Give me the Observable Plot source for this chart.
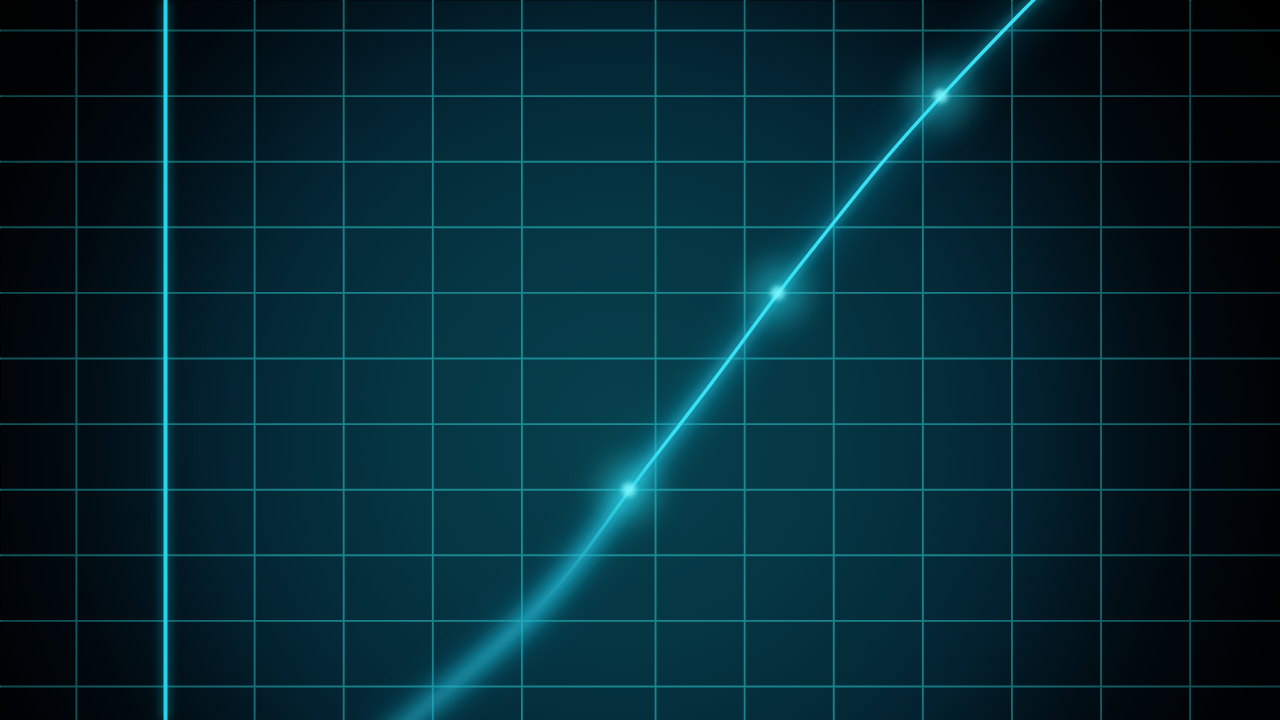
<!DOCTYPE html>
<html>
<head>
<meta charset="utf-8">
<script src="https://cdn.jsdelivr.net/npm/d3@7"></script>
<script src="https://cdn.jsdelivr.net/npm/@observablehq/plot@0.6"></script>
<style>
  html, body { margin: 0; padding: 0; background: #000; overflow: hidden; }
  #chart svg { display: block; }
</style>
</head>
<body>
<div id="chart"></div>
<script>
// Grid positions (chart units)
const gridX = [-1, 0, 1, 2, 3, 4, 5.5, 6.5, 7.5, 8.5, 9.5, 10.5, 11.5];
const gridY = [0, 1, 2, 3, 4, 5, 6, 7, 8, 9, 10];
// Bright reference axis
const axisX = [0];
// Glowing curve
const curveX = [10.0, 9.73, 8.70, 8.04, 7.46, 6.87, 6.34, 5.78, 5.20, 4.70, 4.08, 3.20, 2.75, 2.5];
const curveY = [10.8, 10.46, 9.0, 8.0, 7.0, 6.0, 5.0, 4.0, 3.0, 2.0, 1.0, 0.0, -0.52, -0.8];
// Flare spots along curve
const flareX = [8.70, 6.87, 5.20];
const flareY = [9.0, 6.0, 3.0];

const curve = curveX.map((x, i) => ({x, y: curveY[i]}));
const flares = flareX.map((x, i) => ({x, y: flareY[i]}));

const plot = Plot.plot({
  width: 1280,
  height: 720,
  margin: 0,
  x: {domain: [-1.852, 12.514], axis: null},
  y: {domain: [-0.518, 10.457], axis: null},
  style: {background: "#000"},
  marks: [
    Plot.frame({fill: "url(#bg)", stroke: "none", ariaDescription: "bg"}),
    Plot.ruleX(gridX, {stroke: "#1c8e97", strokeWidth: 1.9, ariaDescription: "gridx"}),
    Plot.ruleY(gridY, {stroke: "#1c8e97", strokeWidth: 1.9, ariaDescription: "gridy"}),
    Plot.frame({fill: "url(#vig)", stroke: "none", ariaDescription: "vig"}),
    // bright vertical axis
    Plot.ruleX(axisX, {stroke: "#1fc8e0", strokeWidth: 10, strokeOpacity: 0.3, ariaDescription: "axisglow"}),
    Plot.ruleX(axisX, {stroke: "#22d6ec", strokeWidth: 4, ariaDescription: "axis"}),
    // curve glow layers
    Plot.line(curve, {x: "x", y: "y", curve: "basis", stroke: "#1493b0", strokeWidth: 46, strokeOpacity: 0.2, clip: true, ariaDescription: "wideglow"}),
    Plot.line(curve, {x: "x", y: "y", curve: "basis", stroke: "url(#lowGrad)", strokeWidth: 24, clip: true, ariaDescription: "lowerband"}),
    Plot.line(curve, {x: "x", y: "y", curve: "basis", stroke: "url(#midGrad)", strokeWidth: 10, clip: true, ariaDescription: "midglow"}),
    Plot.line(curve, {x: "x", y: "y", curve: "basis", stroke: "url(#coreGrad)", strokeWidth: 3.4, clip: true, ariaDescription: "core"}),
    Plot.dot(flares, {x: "x", y: "y", r: 28, fill: "#2fe6f7", fillOpacity: 0.45, ariaDescription: "flareglow"}),
    Plot.dot(flares, {x: "x", y: "y", r: 7, fill: "#7ff8ff", fillOpacity: 0.85, ariaDescription: "flarecore"})
  ]
});

const svg = d3.select(plot);
const defs = svg.insert("defs", ":first-child");
const bg = defs.append("radialGradient").attr("id", "bg").attr("gradientUnits", "userSpaceOnUse")
  .attr("cx", 620).attr("cy", 430).attr("r", 760);
[[0, "#07414d"], [0.3, "#053847"], [0.55, "#032838"], [0.75, "#010e18"], [0.9, "#000307"], [1, "#000"]]
  .forEach(([o, c]) => bg.append("stop").attr("offset", o).attr("stop-color", c));
const vig = defs.append("radialGradient").attr("id", "vig").attr("gradientUnits", "userSpaceOnUse")
  .attr("cx", 620).attr("cy", 430).attr("r", 780);
[[0, 0], [0.45, 0.1], [0.75, 0.4], [1, 0.62]]
  .forEach(([o, a]) => vig.append("stop").attr("offset", o).attr("stop-color", "#000").attr("stop-opacity", a));

function vgrad(id, color, stops) {
  const g = defs.append("linearGradient").attr("id", id).attr("gradientUnits", "userSpaceOnUse")
    .attr("x1", 0).attr("y1", 0).attr("x2", 0).attr("y2", 720);
  stops.forEach(([o, a]) => g.append("stop").attr("offset", o).attr("stop-color", color).attr("stop-opacity", a));
}
vgrad("coreGrad", "#38e0f3", [[0, 1], [0.62, 1], [0.78, 0.25], [0.86, 0]]);
vgrad("midGrad", "#22c6e0", [[0, 0.4], [0.6, 0.5], [0.8, 0.35], [1, 0.15]]);
vgrad("lowGrad", "#1fb6d2", [[0, 0], [0.4, 0.1], [0.7, 0.6], [0.85, 0.6], [1, 0.45]]);

function blur(id, sd) {
  defs.append("filter").attr("id", id).attr("filterUnits", "userSpaceOnUse")
    .attr("x", -200).attr("y", -200).attr("width", 1680).attr("height", 1120)
    .append("feGaussianBlur").attr("stdDeviation", sd);
}
blur("b0", 0.6); blur("b1", 2.5); blur("b3", 5); blur("b6", 9); blur("b10", 16);
const setF = (label, f) => svg.selectAll(`g[aria-description="${label}"]`).attr("filter", `url(#${f})`);
setF("gridx", "b0"); setF("gridy", "b0");
setF("axisglow", "b3"); setF("axis", "b0");
setF("wideglow", "b10"); setF("lowerband", "b6"); setF("midglow", "b3"); setF("core", "b0");
setF("flareglow", "b10"); setF("flarecore", "b1");

document.getElementById("chart").appendChild(plot);
</script>
</body>
</html>
